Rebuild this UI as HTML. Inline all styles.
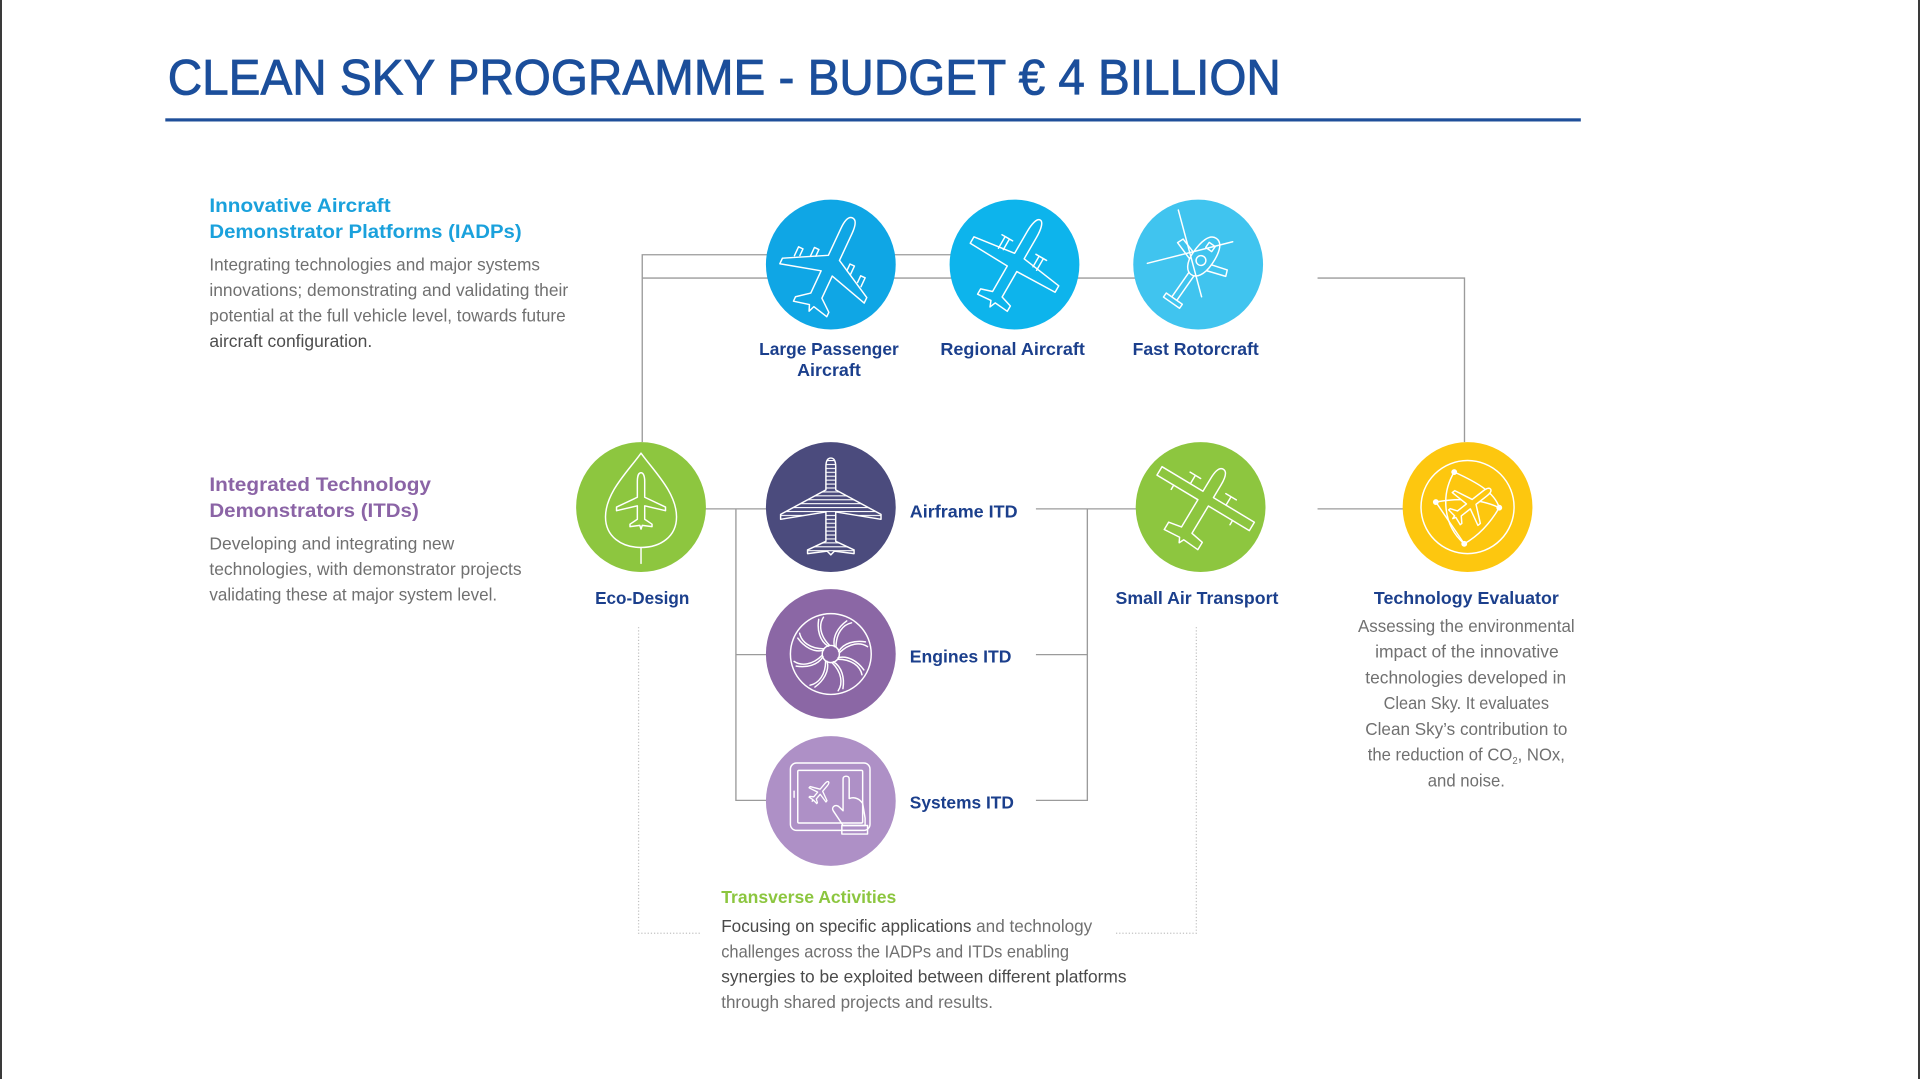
<!DOCTYPE html>
<html>
<head>
<meta charset="utf-8">
<style>
html,body{margin:0;padding:0;background:#fff;}
body{width:1920px;height:1079px;overflow:hidden;position:relative;}
svg{position:absolute;left:0;top:0;}
.bl{position:absolute;top:0;width:2px;height:1079px;background:#3a3a3a;}
</style>
</head>
<body>
<svg width="1920" height="1079" viewBox="0 0 1568 881" preserveAspectRatio="none" font-family="'Liberation Sans', Arial, sans-serif">
<defs>
<pattern id="stripes" width="6" height="3.2" patternUnits="userSpaceOnUse">
<rect width="6" height="3.2" fill="#4b4b7d"/>
<rect y="0" width="6" height="0.9" fill="#ffffff"/>
</pattern>
</defs>

<!-- Title -->
<text x="137" y="77" font-size="41" fill="#1b4e9b" stroke="#1b4e9b" stroke-width="0.7" textLength="909" lengthAdjust="spacingAndGlyphs">CLEAN SKY PROGRAMME - BUDGET € 4 BILLION</text>
<rect x="135" y="96.6" width="1156" height="2.6" fill="#1f4f9a"/>

<!-- IADP block -->
<g font-size="16" font-weight="bold" fill="#1aa1dc">
<text x="171" y="173" textLength="148" lengthAdjust="spacingAndGlyphs">Innovative Aircraft</text>
<text x="171" y="194.5" textLength="255" lengthAdjust="spacingAndGlyphs">Demonstrator Platforms (IADPs)</text>
</g>
<g font-size="14" fill="#707070">
<text x="171" y="221" textLength="270" lengthAdjust="spacingAndGlyphs">Integrating technologies and major systems</text>
<text x="171" y="241.8" textLength="293" lengthAdjust="spacingAndGlyphs">innovations; demonstrating and validating their</text>
<text x="171" y="262.6" textLength="291" lengthAdjust="spacingAndGlyphs">potential at the full vehicle level, towards future</text>
<text x="171" y="283.4" textLength="133" lengthAdjust="spacingAndGlyphs" fill="#4d4d4d">aircraft configuration.</text>
</g>

<!-- ITD block -->
<g font-size="16" font-weight="bold" fill="#8b64a6">
<text x="171" y="401" textLength="181" lengthAdjust="spacingAndGlyphs">Integrated Technology</text>
<text x="171" y="422" textLength="171" lengthAdjust="spacingAndGlyphs">Demonstrators (ITDs)</text>
</g>
<g font-size="14" fill="#707070">
<text x="171" y="448.5" textLength="200" lengthAdjust="spacingAndGlyphs">Developing and integrating new</text>
<text x="171" y="469.5" textLength="255" lengthAdjust="spacingAndGlyphs">technologies, with demonstrator projects</text>
<text x="171" y="490.5" textLength="235" lengthAdjust="spacingAndGlyphs">validating these at major system level.</text>
</g>

<!-- Connectors -->
<g stroke="#9b9b9b" stroke-width="1.1" fill="none">
<path d="M524.5 361 V208 H800"/>
<path d="M524.5 227 H950"/>
<path d="M1076 227 H1196 V361"/>
<path d="M576 415.5 H626"/>
<path d="M601 415.5 V653.5 H626 M601 534.5 H626"/>
<path d="M846 415.5 H928"/>
<path d="M888 415.5 V653.5 H846 M846 534.5 H888"/>
<path d="M1076 415.5 H1146"/>
</g>
<g stroke="#c2c2c2" stroke-width="1" fill="none" stroke-dasharray="1 1.6">
<path d="M521.5 512 V762 H572"/>
<path d="M977 512 V762 H910"/>
</g>

<!-- Circles -->
<circle cx="678.5" cy="216" r="53" fill="#0fa6e5"/>
<circle cx="828.5" cy="216" r="53" fill="#0db4ec"/>
<circle cx="978.5" cy="216" r="53" fill="#40c4ef"/>
<circle cx="523.5" cy="414" r="53" fill="#8dc63f"/>
<circle cx="678.5" cy="414" r="53" fill="#4b4b7d"/>
<circle cx="678.5" cy="534" r="53" fill="#8b67a5"/>
<circle cx="678.5" cy="654" r="53" fill="#ae90c6"/>
<circle cx="980.5" cy="414" r="53" fill="#8dc63f"/>
<circle cx="1198.5" cy="414" r="53" fill="#fdc70f"/>

<!-- Icons -->
<g stroke="#ffffff" stroke-width="1.2" fill="none" stroke-linejoin="round" stroke-linecap="round">
<!-- Large passenger -->
<g transform="translate(678.5,216) rotate(25)">
<path d="M0,-42 C3.5,-42 5,-37 5,-30 L5,-6 L38,12 L38,17 L5,8 L5,28 L15,36 L15,40 L2,37 L0,42 L-2,37 L-15,40 L-15,36 L-5,28 L-5,8 L-38,17 L-38,12 L-5,-6 L-5,-30 C-5,-37 -3.5,-42 0,-42 Z"/>
<path d="M14,-1 L14,-7 L18,-7 L18,1 M26,4 L26,-2 L30,-2 L30,6 M-14,-1 L-14,-7 L-18,-7 L-18,1 M-26,4 L-26,-2 L-30,-2 L-30,6"/>
</g>
<!-- Regional -->
<g transform="translate(828.5,216) rotate(30)">
<path d="M0,-42 C3,-42 4.5,-36 4.5,-28 L4.5,-8 L40,-3 L40,3 L4.5,4 L4.5,28 L14,31 L14,36 L2,35 L0,40 L-2,35 L-14,36 L-14,31 L-4.5,28 L-4.5,4 L-40,3 L-40,-3 L-4.5,-8 L-4.5,-28 C-4.5,-36 -3,-42 0,-42 Z"/>
<path d="M14,-6 L14,-16 L18,-16 L18,-5 M-14,-6 L-14,-16 L-18,-16 L-18,-5 M11,-16 L21,-16 M-11,-16 L-21,-16"/>
</g>
<!-- Fast rotorcraft -->
<g transform="translate(978.5,216) rotate(35)">
<path d="M0,-26 C7,-26 9,-16 9,-6 C9,4 5,10 0,10 C-5,10 -9,4 -9,-6 C-9,-16 -7,-26 0,-26 Z"/>
<path d="M-2.5,10 L-2.5,34 M2.5,10 L2.5,34 M-8,34 L8,34 L8,38 L-8,38 Z"/>
<path d="M9,-6 L22,-10 L24,-5 L9,0 M-9,-6 L-22,-10 L-24,-5 L-9,0"/>
<circle cx="0" cy="-4" r="4"/>
<path d="M-3,-20 L3,-20 L3,-15 L-3,-15 Z"/>
</g>
<path d="M962.3,171.5 L981.3,242.3 M937,215 L1006.7,197.4"/>
<!-- Eco-design -->
<g transform="translate(523.5,414)">
<path d="M0,-44 C-10,-30 -29,-12 -29,8 C-29,24 -16,33 0,33 C16,33 29,24 29,8 C29,-12 10,-30 0,-44 Z"/>
<path d="M0,33 L0,46"/>
<path d="M0,-28 C2,-28 3,-25 3,-21 L3,-8 L20,0 L20,3 L3,-1 L3,10 L9,14 L9,16 L1,15 L0,18 L-1,15 L-9,16 L-9,14 L-3,10 L-3,-1 L-20,3 L-20,0 L-3,-8 L-3,-21 C-3,-25 -2,-28 0,-28 Z"/>
</g>
<!-- Airframe -->
<g transform="translate(678.5,414)">
<path fill="url(#stripes)" d="M0,-40 C3,-40 4,-37 4,-33 L4,-14 L41,6 L41,10 L4,4 L4,28 L19,35 L19,38 L3,36 L0,39 L-3,36 L-19,38 L-19,35 L-4,28 L-4,4 L-41,10 L-41,6 L-4,-14 L-4,-33 C-4,-37 -3,-40 0,-40 Z"/>
</g>
<!-- Engines -->
<g transform="translate(678.5,534)">
<circle r="33"/>
<circle r="7"/>
<g><path d="M7,-1 C15,-9 24,-10 30,-6 M6,3 C14,1 22,6 27,13"/></g>
<g transform="rotate(45)"><path d="M7,-1 C15,-9 24,-10 30,-6 M6,3 C14,1 22,6 27,13"/></g>
<g transform="rotate(90)"><path d="M7,-1 C15,-9 24,-10 30,-6 M6,3 C14,1 22,6 27,13"/></g>
<g transform="rotate(135)"><path d="M7,-1 C15,-9 24,-10 30,-6 M6,3 C14,1 22,6 27,13"/></g>
<g transform="rotate(180)"><path d="M7,-1 C15,-9 24,-10 30,-6 M6,3 C14,1 22,6 27,13"/></g>
<g transform="rotate(225)"><path d="M7,-1 C15,-9 24,-10 30,-6 M6,3 C14,1 22,6 27,13"/></g>
<g transform="rotate(270)"><path d="M7,-1 C15,-9 24,-10 30,-6 M6,3 C14,1 22,6 27,13"/></g>
<g transform="rotate(315)"><path d="M7,-1 C15,-9 24,-10 30,-6 M6,3 C14,1 22,6 27,13"/></g>
</g>
<!-- Systems -->
<g transform="translate(678.5,654)">
<rect x="-33" y="-31" width="65" height="55" rx="5"/>
<rect x="-27" y="-25" width="53" height="43" rx="1"/>
<path d="M-30,-8 L-30,-3"/>
<path d="M10,-18 C10,-21 15,-21 15,-18 L15,-2 C20,-4 24,-1 26,2 L28,14 L28,20 L10,20 L2,8 C0,5 4,2 7,5 L10,8 Z"/>
<rect x="9" y="20" width="21" height="7"/>
<g transform="translate(-10,-6) rotate(40) scale(0.45)">
<path d="M0,-28 C2,-28 3,-25 3,-21 L3,-8 L20,0 L20,3 L3,-1 L3,10 L9,14 L9,16 L1,15 L0,18 L-1,15 L-9,16 L-9,14 L-3,10 L-3,-1 L-20,3 L-20,0 L-3,-8 L-3,-21 C-3,-25 -2,-28 0,-28 Z" stroke-width="2.4"/>
</g>
</g>
<!-- Small air transport -->
<g transform="translate(980.5,414) rotate(31)">
<path d="M0,-36 C4,-36 5,-30 5,-24 L5,-12 L44,-12 L44,-4 L5,-4 L5,22 L16,24 L16,31 L2,30 L0,34 L-2,30 L-16,31 L-16,24 L-5,22 L-5,-4 L-44,-4 L-44,-12 L-5,-12 L-5,-24 C-5,-30 -4,-36 0,-36 Z"/>
<path d="M17,-12 L17,-20 M12,-20 L22,-20 M-17,-12 L-17,-20 M-12,-20 L-22,-20 M28,-4 L28,0 M-28,-4 L-28,0"/>
</g>
<!-- Technology evaluator -->
<g transform="translate(1198.5,414)">
<circle r="38"/>
<path d="M-10.9,-28.6 C-22,-10 -20,15 -2.7,30"/>
<path d="M-10.9,-28.6 C8,-20 22,-12 25.9,0.5"/>
<path d="M-25.9,-4.1 C-5,-8 12,-6 25.9,0.5"/>
<path d="M-25.9,-4.1 C-15,12 -8,22 -2.7,30"/>
<path d="M25.9,0.5 C18,14 8,24 -2.7,30"/>
<circle cx="-10.9" cy="-28.6" r="1.8" fill="#fff"/>
<circle cx="-25.9" cy="-4.1" r="1.8" fill="#fff"/>
<circle cx="25.9" cy="0.5" r="1.8" fill="#fff"/>
<circle cx="-2.7" cy="30" r="1.8" fill="#fff"/>
<g transform="rotate(52) scale(0.85)">
<path d="M0,-28 C2,-28 3,-25 3,-21 L3,-8 L20,0 L20,3 L3,-1 L3,10 L9,14 L9,16 L1,15 L0,18 L-1,15 L-9,16 L-9,14 L-3,10 L-3,-1 L-20,3 L-20,0 L-3,-8 L-3,-21 C-3,-25 -2,-28 0,-28 Z" fill="#fdc70f" stroke-width="1.4"/>
</g>
</g>
</g>

<!-- Labels -->
<g font-size="14.5" font-weight="bold" fill="#1b3f8c">
<text x="620" y="290" textLength="114" lengthAdjust="spacingAndGlyphs">Large Passenger</text>
<text x="651" y="307" textLength="52" lengthAdjust="spacingAndGlyphs">Aircraft</text>
<text x="768" y="290" textLength="118" lengthAdjust="spacingAndGlyphs">Regional Aircraft</text>
<text x="925" y="290" textLength="103" lengthAdjust="spacingAndGlyphs">Fast Rotorcraft</text>
<text x="486" y="493" textLength="77" lengthAdjust="spacingAndGlyphs">Eco-Design</text>
<text x="743" y="422.5" textLength="88" lengthAdjust="spacingAndGlyphs">Airframe ITD</text>
<text x="743" y="541" textLength="83" lengthAdjust="spacingAndGlyphs">Engines ITD</text>
<text x="743" y="660" textLength="85" lengthAdjust="spacingAndGlyphs">Systems ITD</text>
<text x="911" y="493" textLength="133" lengthAdjust="spacingAndGlyphs">Small Air Transport</text>
<text x="1122" y="493" textLength="151" lengthAdjust="spacingAndGlyphs">Technology Evaluator</text>
</g>

<!-- Technology evaluator text -->
<g font-size="14" fill="#707070">
<text x="1109" y="516" textLength="177" lengthAdjust="spacingAndGlyphs">Assessing the environmental</text>
<text x="1123" y="537" textLength="150" lengthAdjust="spacingAndGlyphs">impact of the innovative</text>
<text x="1115" y="558" textLength="164" lengthAdjust="spacingAndGlyphs">technologies developed in</text>
<text x="1130" y="579" textLength="135" lengthAdjust="spacingAndGlyphs">Clean Sky. It evaluates</text>
<text x="1115" y="600" textLength="165" lengthAdjust="spacingAndGlyphs">Clean Sky’s contribution to</text>
<text x="1117" y="621" textLength="161" lengthAdjust="spacingAndGlyphs">the reduction of CO<tspan font-size="8" dy="3">2</tspan><tspan dy="-3">, NOx,</tspan></text>
<text x="1166" y="642" textLength="63" lengthAdjust="spacingAndGlyphs">and noise.</text>
</g>

<!-- Transverse activities -->
<text x="589" y="737.5" font-size="14.5" font-weight="bold" fill="#8cc63f" textLength="143" lengthAdjust="spacingAndGlyphs">Transverse Activities</text>
<g font-size="14" fill="#707070">
<text x="589" y="761" textLength="303" lengthAdjust="spacingAndGlyphs"><tspan fill="#4a4a4a">Focusing on specific applications</tspan> and technology</text>
<text x="589" y="781.7" textLength="284" lengthAdjust="spacingAndGlyphs">challenges across the IADPs and ITDs enabling</text>
<text x="589" y="802.4" textLength="331" lengthAdjust="spacingAndGlyphs" fill="#4a4a4a">synergies to be exploited between different platforms</text>
<text x="589" y="823" textLength="222" lengthAdjust="spacingAndGlyphs">through shared projects and results.</text>
</g>
</svg>
<div class="bl" style="left:0"></div>
<div class="bl" style="left:1918px"></div>
</body>
</html>
